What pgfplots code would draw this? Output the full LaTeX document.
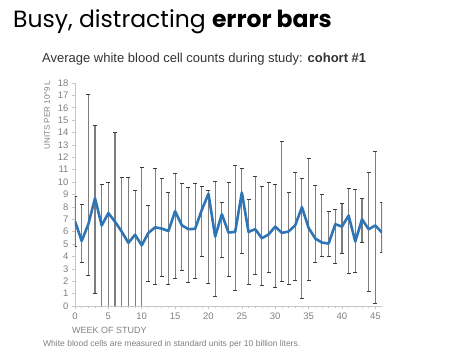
\documentclass[border=0pt]{standalone}
\usepackage{fontspec}
\usepackage{pgfplots}
\pgfplotsset{compat=1.18}
\usepackage{pgfplotstable}
\setmainfont{Liberation Sans}
\newfontfamily\titlefont{Poppins}

\definecolor{wbcblue}{RGB}{46,117,182}
\definecolor{tickgrey}{RGB}{128,128,128}
\definecolor{axisgrey}{RGB}{200,200,200}
\definecolor{bargrey}{RGB}{125,125,125}
\definecolor{capgrey}{RGB}{60,60,60}

% weekly mean and the ends of each error bar (units per 10^9 L)
\pgfplotstableread{
w  m     hi     lo
0  6.85  8.85   4.85
1  5.25  8.20   3.48
2  6.60  17.10  2.45
3  8.70  14.55  1.03
4  6.50  9.80   -1
5  7.50  10.00  -1
6  6.80  14.00  -1
7  6.00  10.40  -1
8  5.10  10.35  -1
9  5.75  9.35   -1
10 4.90  11.20  -1
11 5.90  8.15   1.95
12 6.35  11.10  1.77
13 6.25  10.30  2.35
14 6.05  9.18   1.75
15 7.65  10.70  2.23
16 6.52  9.90   2.86
17 6.20  9.57   1.94
18 6.23  9.92   2.21
19 7.76  9.68   3.99
20 9.06  9.33   1.83
21 5.60  10.03  0.78
22 7.41  8.33   3.90
23 5.93  9.95   2.37
24 5.98  11.35  1.29
25 9.16  11.08  4.23
26 5.98  8.57   1.78
27 6.20  10.46  2.53
28 5.47  9.62   1.64
29 5.77  9.95   2.70
30 6.41  9.81   1.54
31 5.90  13.29  2.00
32 6.01  9.16   1.75
33 6.52  10.80  2.05
34 7.98  10.32  0.62
35 6.31  11.89  2.10
36 5.45  9.73   3.52
37 5.12  9.03   3.99
38 5.04  7.65   4.04
39 6.60  7.82   3.45
40 6.41  8.27   4.23
41 7.30  9.46   2.61
42 5.20  9.38   2.70
43 7.00  8.71   5.15
44 6.20  10.78  1.21
45 6.50  12.45  0.22
46 5.93  8.38   4.29
}\wbcdata

\begin{document}
\begin{tikzpicture}[x=1pt,y=1pt]
\begin{axis}[
  at={(0,0)}, anchor=south west,
  scale only axis, width=307pt, height=223pt,
  xmin=0, xmax=46, ymin=0, ymax=18,
  axis lines=left,
  axis line style={-, draw=axisgrey, line width=0.8pt},
  xtick={0,5,...,45}, minor x tick num=4,
  ytick={0,1,...,18},
  tick align=outside, major tick length=3pt, minor tick length=2pt,
  tick style={draw=axisgrey, line width=0.6pt},
  ticklabel style={font=\fontsize{9.5}{10}\selectfont, text=tickgrey},
  /pgf/number format/assume math mode=true,
]
% error bars only: the plot path itself is not drawn
\addplot[forget plot, draw=none, mark=none,
  error bars/.cd, y dir=both, y explicit,
  error mark=|,
  error bar style={draw=bargrey, line width=1.1pt},
  error mark options={draw=capgrey, mark size=2pt, line width=0.8pt}]
  table[x=w, y=m,
        y error plus expr=\thisrow{hi}-\thisrow{m},
        y error minus expr=\thisrow{m}-\thisrow{lo}] {\wbcdata};
% weekly mean
\addplot[wbcblue, line width=2.6pt, line join=round, mark=none]
  table[x=w, y=m] {\wbcdata};
\end{axis}

\node[anchor=base west, inner sep=0pt, font=\titlefont\fontsize{23.5}{26}\selectfont]
  at (-62,278) {Busy, distracting \textbf{error bars}};
\node[anchor=base west, inner sep=0pt, font=\fontsize{13}{15}\selectfont, text=black!80]
  at (-33,243) {Average white blood cell counts during study: \textbf{cohort \#1}};
\node[rotate=90, inner sep=0pt, font=\fontsize{8}{9}\selectfont, text=tickgrey]
  at (-28,191) {UNITS PER 10\textasciicircum 9 L};
\node[anchor=base west, inner sep=0pt, font=\fontsize{9}{10}\selectfont, text=tickgrey]
  at (-3,-28) {WEEK OF STUDY};
\node[anchor=base west, inner sep=0pt, font=\fontsize{8.5}{9}\selectfont, text=tickgrey]
  at (-32,-41) {White blood cells are measured in standard units per 10 billion liters.};

\path[use as bounding box] (-75,-49) rectangle (399,306);
\end{tikzpicture}
\end{document}
